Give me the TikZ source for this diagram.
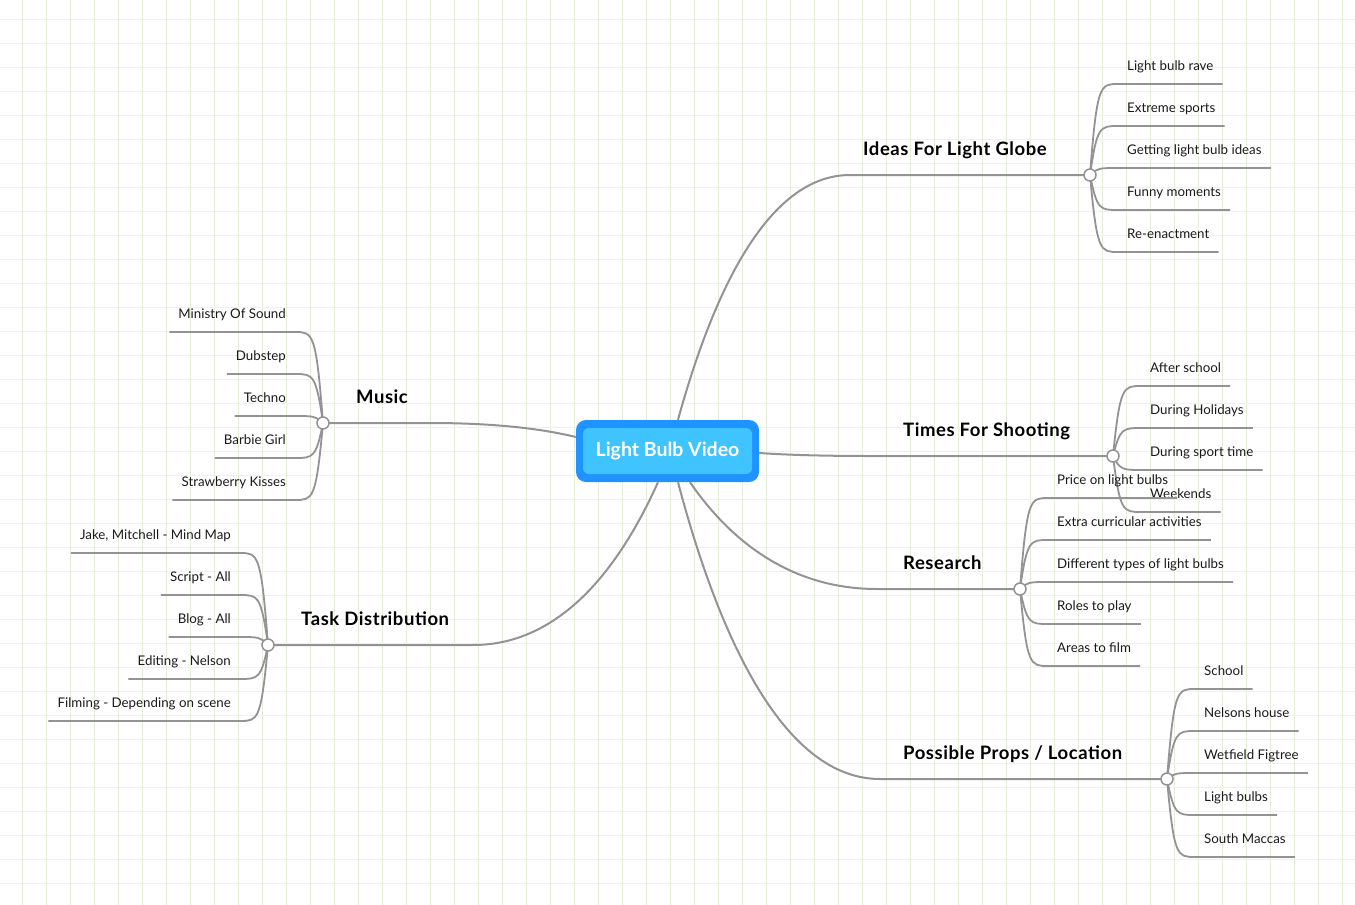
\documentclass[tikz,border=0pt]{standalone}
\usepackage{fontspec}
\setmainfont{Lato}
\newfontfamily\mainlab[LetterSpace=3]{Lato}
\usetikzlibrary{calc}
\definecolor{gridv}{HTML}{E4EDDA}
\definecolor{gridh}{HTML}{EEF3EA}
\definecolor{branch}{HTML}{939393}
\definecolor{outerblue}{HTML}{1F93FF}
\definecolor{innerblue}{HTML}{40C4FF}
\definecolor{txt}{HTML}{1A1A1A}
\tikzset{
  conn/.style={draw=branch, line width=2pt},
  subconn/.style={draw=branch, line width=1.8pt},
  joint/.style={circle, draw=branch, fill=white, line width=1.5pt, minimum size=12pt, inner sep=0pt},
  childtxt/.style={font=\fontsize{13.3}{15}\selectfont, inner sep=0pt, text=txt},
  maintxt/.style={font=\mainlab\fontsize{18.5}{21}\selectfont\bfseries, inner sep=0pt, text=black},
}
% right child: #1 joint, #2 cx, #3 underline y, #4 name, #5 text
\newcommand\rkid[5]{%
  \node[childtxt, anchor=base west] (#4) at (#2+37,#3-13.5) {#5};
  \path (#4.base east) ++(9,13.5) coordinate (#4e);
  \draw[subconn] (#1) .. controls (#2+7,#3) and (#2+10,#3) .. (#2+28,#3) -- (#4e);
}
% left child
\newcommand\lkid[5]{%
  \node[childtxt, anchor=base east] (#4) at (#2-37,#3-13.5) {#5};
  \path (#4.base west) ++(-9,13.5) coordinate (#4e);
  \draw[subconn] (#1) .. controls (#2-7,#3) and (#2-10,#3) .. (#2-28,#3) -- (#4e);
}
\begin{document}
\begin{tikzpicture}[x=1pt,y=-1pt]
\useasboundingbox (0,0) rectangle (1355,905);
\fill[white] (0,0) rectangle (1355,905);
\foreach \i in {0,...,56} \draw[gridv, line width=1pt] (22.3+24*\i,0) -- (22.3+24*\i,905);
\foreach \j in {0,...,37} \draw[gridh, line width=1pt] (0,19.3+24*\j) -- (1355,19.3+24*\j);

% central topic
\node[fill=outerblue, rounded corners=10pt, minimum width=183pt, minimum height=62pt, inner sep=0pt] (C) at (667.5,451) {};
\node[fill=innerblue, rounded corners=6pt, minimum width=169pt, minimum height=46pt, inner sep=0pt,
      text=white, font=\fontsize{19.5}{22}\selectfont\bfseries] (Ct) at (C.center) {Light Bulb Video};

% joints
\coordinate (J1) at (1090,175);
\coordinate (J2) at (1113,456);
\coordinate (J3) at (1020,589);
\coordinate (J4) at (1167,779);
\coordinate (J5) at (323,423);
\coordinate (J6) at (268,645);

% main connectors
\draw[conn] ($(C.north)+(10.5,0)$) .. controls (714,289) and (769,175) .. (850,175) -- (J1);
\draw[conn] ($(C.east)+(0,2)$) .. controls (782,454.6) and (818,456) .. (870,456) -- (J2);
\draw[conn] ($(C.south)+(22.5,0)$) .. controls (729,539) and (789,589) .. (877,589) -- (J3);
\draw[conn] ($(C.south)+(10.5,0)$) .. controls (720,641) and (785,779) .. (880,779) -- (J4);
\draw[conn] ($(C.west)+(0,-14)$) .. controls (545,429.5) and (499,423) .. (430,423) -- (J5);
\draw[conn] ($(C.south)+(-9.5,0)$) .. controls (619,569) and (560,645) .. (473,645) -- (J6);

% main labels
\node[maintxt, anchor=base west] (T1) at (863,155.5) {Ideas For Light Globe};
\node[maintxt, anchor=base west] (T2) at (903,436.5) {Times For Shooting};
\node[maintxt, anchor=base west] (T3) at (903,569.5) {Research};
\node[maintxt, anchor=base west] (T4) at (903,759.5) {Possible Props / Location};
\node[maintxt, anchor=base west] (T5) at (356,403.5) {Music};
\node[maintxt, anchor=base west] (T6) at (301,625.5) {Task Distribution};

% children
\rkid{J1}{1090}{84}{a1}{Light bulb rave}
\rkid{J1}{1090}{126}{a2}{Extreme sports}
\rkid{J1}{1090}{168}{a3}{Getting light bulb ideas}
\rkid{J1}{1090}{210}{a4}{Funny moments}
\rkid{J1}{1090}{252}{a5}{Re-enactment}

\rkid{J2}{1113}{386}{b1}{After school}
\rkid{J2}{1113}{428}{b2}{During Holidays}
\rkid{J2}{1113}{470}{b3}{During sport time}
\rkid{J2}{1113}{512}{b4}{Weekends}

\rkid{J3}{1020}{498}{c1}{Price on light bulbs}
\rkid{J3}{1020}{540}{c2}{Extra curricular activities}
\rkid{J3}{1020}{582}{c3}{Different types of light bulbs}
\rkid{J3}{1020}{624}{c4}{Roles to play}
\rkid{J3}{1020}{666}{c5}{Areas to film}

\rkid{J4}{1167}{689}{d1}{School}
\rkid{J4}{1167}{731}{d2}{Nelsons house}
\rkid{J4}{1167}{773}{d3}{Wetfield Figtree}
\rkid{J4}{1167}{815}{d4}{Light bulbs}
\rkid{J4}{1167}{857}{d5}{South Maccas}

\lkid{J5}{323}{332}{e1}{Ministry Of Sound}
\lkid{J5}{323}{374}{e2}{Dubstep}
\lkid{J5}{323}{416}{e3}{Techno}
\lkid{J5}{323}{458}{e4}{Barbie Girl}
\lkid{J5}{323}{500}{e5}{Strawberry Kisses}

\lkid{J6}{268}{553}{f1}{Jake, Mitchell - Mind Map}
\lkid{J6}{268}{595}{f2}{Script - All}
\lkid{J6}{268}{637}{f3}{Blog - All}
\lkid{J6}{268}{679}{f4}{Editing - Nelson}
\lkid{J6}{268}{721}{f5}{Filming - Depending on scene}

% joint circles
\foreach \k in {1,...,6} \node[joint] (J\k c) at (J\k) {};
\end{tikzpicture}
\end{document}
